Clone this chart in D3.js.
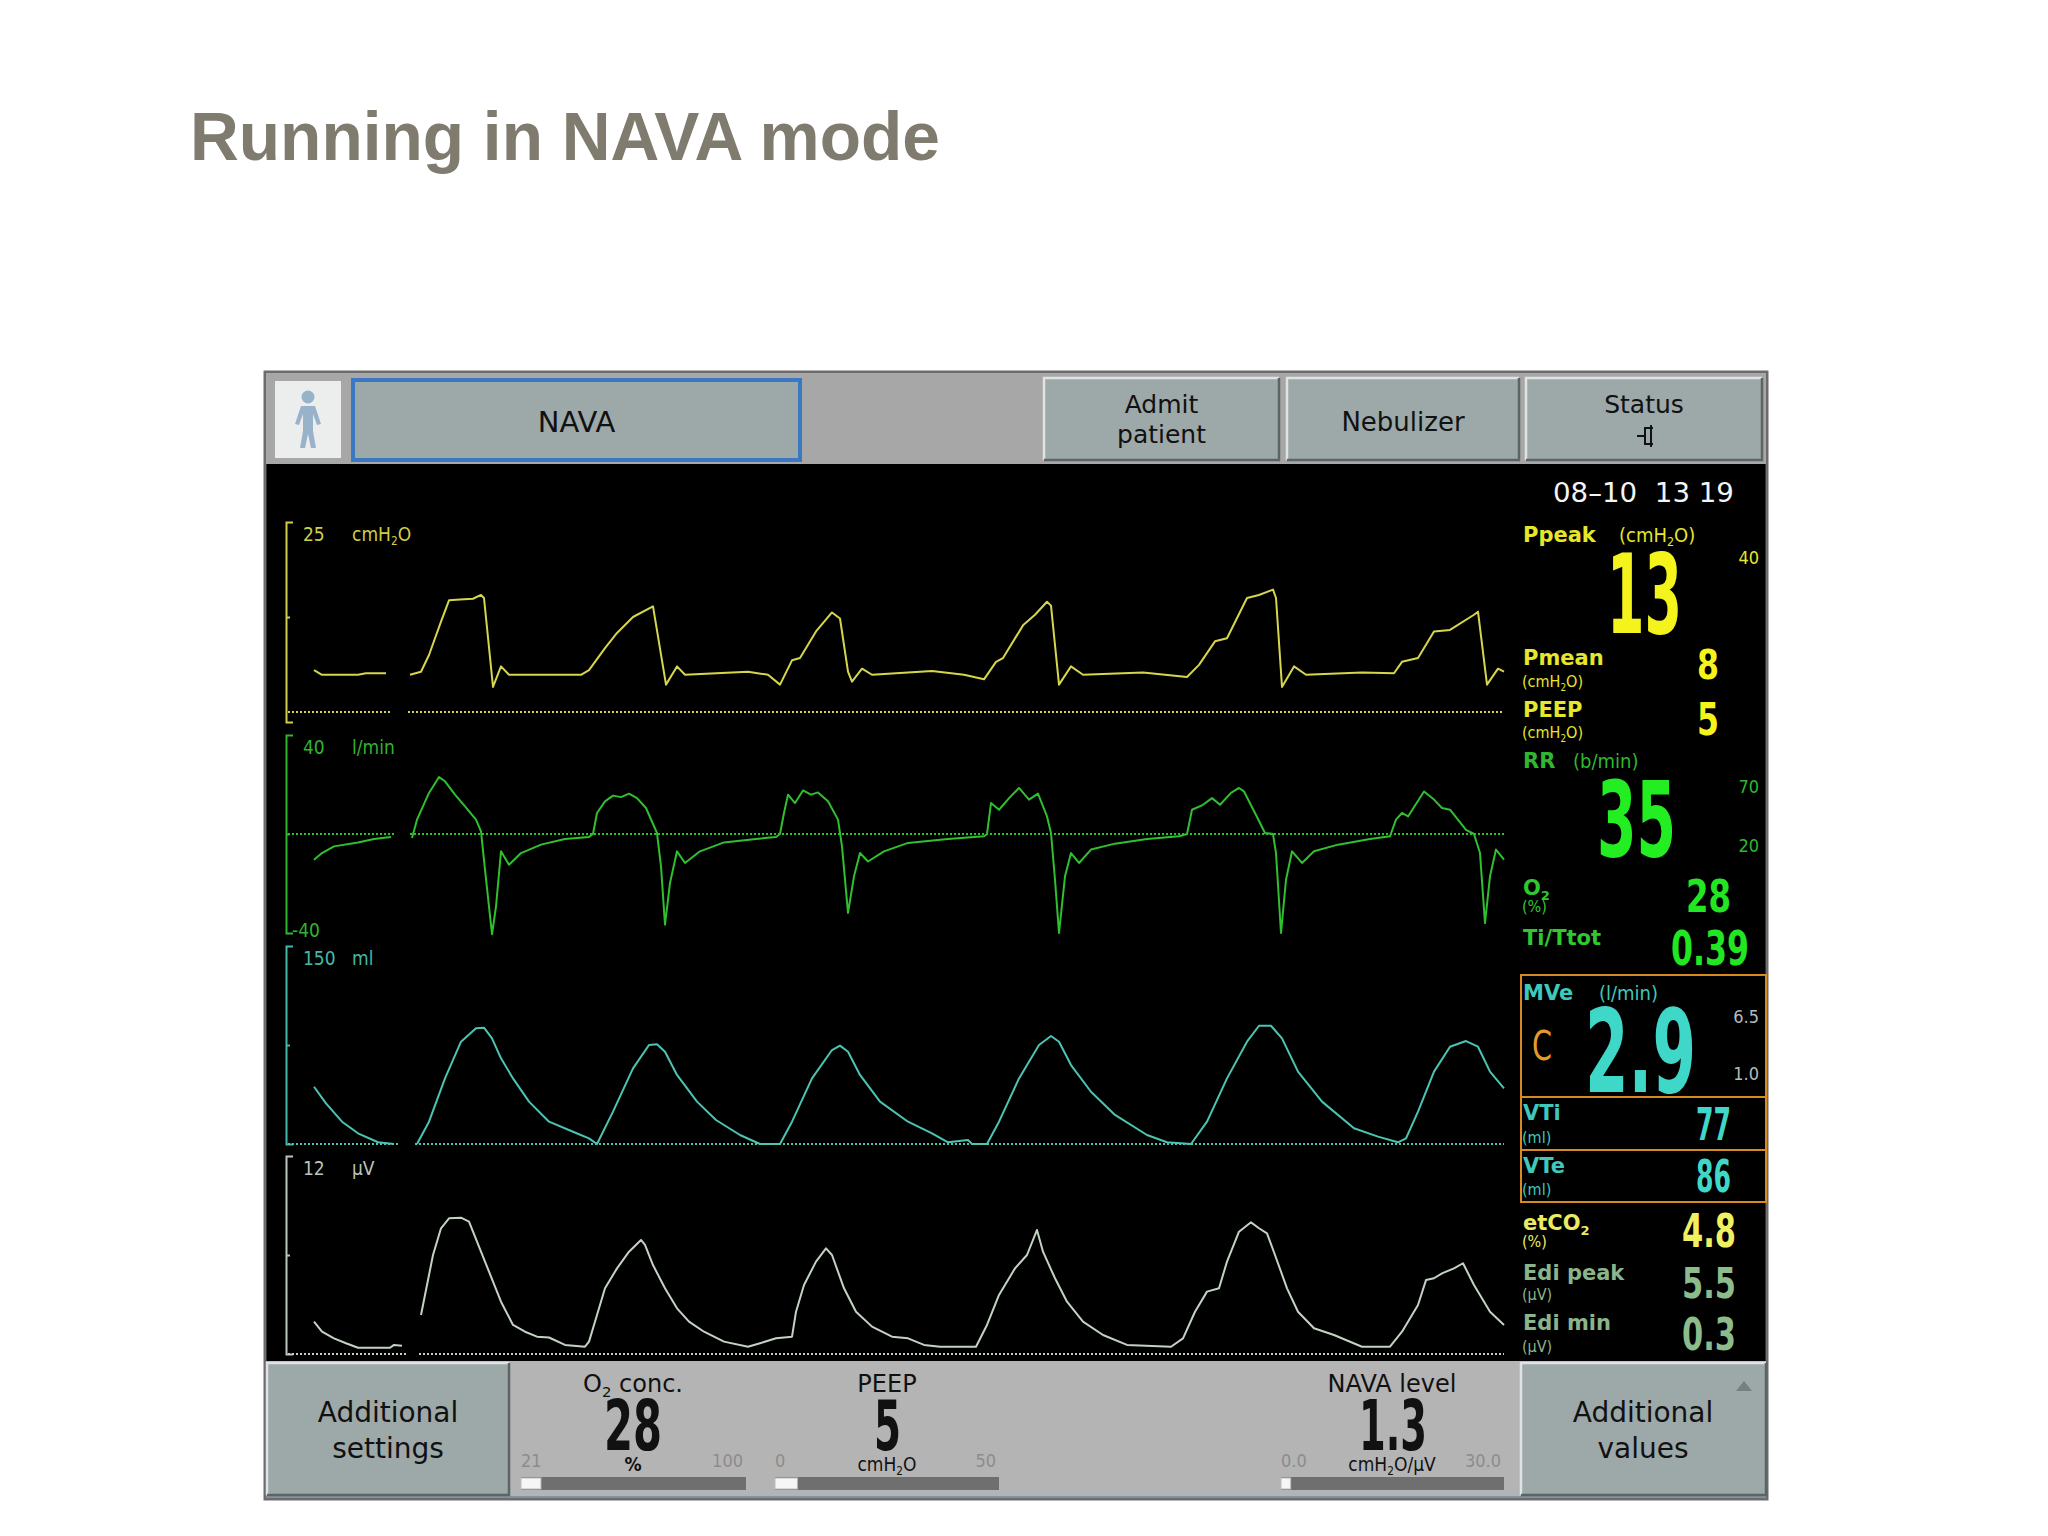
<!DOCTYPE html>
<html>
<head>
<meta charset="utf-8">
<script src="https://cdn.jsdelivr.net/npm/d3@7"></script>
<style>
  body { margin: 0; background: #fff; }
</style>
</head>
<body>
<script>
'use strict';

// ---- data ----
// waveforms: [seconds, value], null marks the sweep gap
let pressure = [[0.14,5.5],[0.22,4.9],[0.58,4.9],[0.66,5.1],[0.86,5.1],[0.98,null],
  [1.10,4.9],[1.21,5.3],[1.29,7.5],[1.41,11.9],[1.49,14.7],[1.60,14.8],[1.73,14.9],[1.81,15.4],[1.84,15.0],
  [1.93,3.3],[2.01,6.0],[2.09,4.9],[2.81,4.9],[2.89,5.5],[3.05,8.4],[3.17,10.4],[3.33,12.5],[3.53,13.9],
  [3.66,3.6],[3.77,6.0],[3.85,4.9],[4.48,5.3],[4.68,4.9],[4.80,3.6],[4.92,6.8],[5.00,7.1],[5.16,10.6],
  [5.32,13.1],[5.40,12.3],[5.48,5.3],[5.52,4.0],[5.62,5.7],[5.72,4.9],[6.32,5.4],[6.64,4.9],[6.84,4.3],
  [6.96,6.6],[7.03,7.1],[7.23,11.4],[7.35,12.8],[7.47,14.5],[7.51,14.0],[7.59,3.6],[7.71,6.0],[7.83,4.9],
  [8.43,5.2],[8.87,4.6],[8.99,6.2],[9.15,9.3],[9.27,9.7],[9.47,15.0],[9.59,15.4],[9.73,16.1],[9.76,15.0],
  [9.82,3.3],[9.94,6.0],[10.06,4.9],[10.62,5.2],[10.94,5.1],[11.02,6.6],[11.18,7.1],[11.34,10.6],
  [11.50,10.8],[11.74,12.8],[11.78,13.2],[11.87,3.6],[11.98,5.7],[12.04,5.3]];

let flow = [[0.14,-10.4],[0.22,-7.7],[0.34,-5.0],[0.58,-3.4],[0.74,-2.0],[0.91,-1.2],[1.0,null],
  [1.12,-1.6],[1.17,5.8],[1.29,16.6],[1.39,23.0],[1.45,21.3],[1.55,15.9],[1.65,11.2],[1.76,5.8],[1.81,1.1],
  [1.85,-14.4],[1.92,-40.5],[1.96,-29.3],[2.01,-7.0],[2.09,-12.4],[2.21,-7.7],[2.41,-4.3],[2.65,-2.0],
  [2.89,-1.2],[2.93,0],[2.97,8.5],[3.05,13.2],[3.13,15.5],[3.21,14.9],[3.29,16.3],[3.37,14.5],[3.46,10.5],
  [3.57,0.4],[3.61,-13.1],[3.65,-36.6],[3.70,-19.8],[3.77,-7.0],[3.85,-11.7],[4.00,-7.0],[4.24,-3.4],
  [4.56,-2.0],[4.76,-1.2],[4.80,0],[4.84,8.5],[4.88,15.9],[4.95,12.5],[5.03,17.6],[5.11,15.9],[5.18,16.8],
  [5.28,13.2],[5.38,5.8],[5.42,-5.0],[5.48,-31.9],[5.54,-17.1],[5.60,-7.7],[5.68,-11.1],[5.84,-7.0],
  [6.08,-3.6],[6.48,-2.0],[6.84,-0.9],[6.87,0],[6.91,12.5],[6.99,9.8],[7.10,14.9],[7.19,18.6],[7.29,13.9],
  [7.38,16.3],[7.47,7.1],[7.51,0.4],[7.55,-18.5],[7.59,-40.0],[7.65,-17.1],[7.71,-7.7],[7.79,-11.7],
  [7.91,-6.3],[8.15,-3.9],[8.47,-2.0],[8.79,-0.9],[8.87,0],[8.92,9.8],[9.03,11.8],[9.12,14.5],[9.20,11.8],
  [9.31,16.6],[9.39,18.6],[9.44,17.2],[9.55,8.5],[9.65,0.4],[9.73,0],[9.76,-7.7],[9.81,-40.0],[9.86,-18.5],
  [9.92,-7.0],[10.02,-11.7],[10.14,-7.0],[10.38,-4.3],[10.70,-2.0],[10.90,-0.9],[10.96,5.8],[11.02,8.5],
  [11.08,7.1],[11.24,17.2],[11.34,13.9],[11.42,10.5],[11.50,9.8],[11.66,1.7],[11.74,0],[11.80,-7.7],
  [11.85,-36.0],[11.90,-17.1],[11.96,-6.3],[12.04,-10.4]];

let volume = [[0.14,43.4],[0.26,30.8],[0.42,16.9],[0.58,8.1],[0.78,1.3],[0.94,0],[1.05,null],
  [1.17,0],[1.29,16.9],[1.45,49.7],[1.61,77.5],[1.76,87.6],[1.84,88.1],[1.92,80],[2.01,64.9],[2.13,49.7],
  [2.29,32.1],[2.49,16.9],[2.73,9.3],[2.89,4.3],[2.97,0],[3.13,24.5],[3.33,57.3],[3.49,75],[3.57,75.5],
  [3.65,69.9],[3.77,52.3],[3.97,32.1],[4.16,18.2],[4.40,6.8],[4.60,0],[4.80,0],[4.92,16.9],[5.12,49.7],
  [5.32,71.2],[5.40,74.5],[5.48,69.9],[5.60,52.3],[5.80,32.1],[6.08,16.9],[6.32,8.1],[6.48,1.3],[6.68,3.0],
  [6.72,0],[6.87,0],[6.99,16.9],[7.19,49.7],[7.39,75],[7.51,81.8],[7.59,77.5],[7.71,59.8],[7.91,39.6],
  [8.15,22],[8.47,6.8],[8.67,1.3],[8.91,0],[9.07,16.9],[9.27,49.7],[9.47,77.5],[9.59,89.6],[9.71,89.6],
  [9.82,80],[9.98,54.8],[10.22,32.1],[10.54,11.9],[10.78,5.6],[10.98,1.3],[11.06,4.3],[11.18,24.5],
  [11.34,54.8],[11.50,73.7],[11.66,78],[11.78,73.7],[11.90,54.8],[12.04,42.2]];

let edi = [[0.14,1.96],[0.22,1.35],[0.34,0.95],[0.46,0.65],[0.58,0.38],[0.90,0.38],[0.94,0.55],[1.02,0.5],[1.1,null],
  [1.21,2.36],[1.25,3.58],[1.33,6.0],[1.41,7.62],[1.49,8.22],[1.61,8.26],[1.69,8.02],[1.77,6.81],[1.89,4.99],
  [2.01,3.17],[2.13,1.76],[2.25,1.35],[2.37,1.05],[2.49,1.0],[2.65,0.55],[2.85,0.44],[2.89,0.75],[2.97,2.36],
  [3.05,3.98],[3.17,5.19],[3.29,6.2],[3.41,6.91],[3.45,6.61],[3.53,5.39],[3.65,3.98],[3.77,2.77],[3.89,1.96],
  [4.04,1.35],[4.24,0.75],[4.48,0.44],[4.60,0.65],[4.76,0.95],[4.92,1.05],[4.96,2.56],[5.04,4.18],[5.16,5.6],
  [5.26,6.4],[5.32,6.0],[5.44,3.98],[5.56,2.56],[5.72,1.66],[5.92,1.05],[6.08,0.95],[6.24,0.55],[6.40,0.44],
  [6.76,0.44],[6.87,1.76],[6.99,3.58],[7.15,5.19],[7.27,6.0],[7.37,7.52],[7.43,6.2],[7.55,4.59],[7.67,3.17],
  [7.83,1.96],[8.03,1.15],[8.27,0.55],[8.71,0.44],[8.83,0.95],[8.95,2.56],[9.07,3.78],[9.19,3.98],[9.27,5.6],
  [9.39,7.41],[9.51,7.98],[9.59,7.62],[9.67,7.31],[9.75,6.0],[9.87,3.98],[9.98,2.56],[10.14,1.56],[10.34,1.15],
  [10.62,0.44],[10.90,0.44],[11.02,1.35],[11.18,2.97],[11.26,4.48],[11.34,4.59],[11.42,4.89],[11.54,5.19],
  [11.63,5.5],[11.74,4.18],[11.90,2.56],[12.04,1.76]];

let waveMax = [25, 40, 150, 12];
let waveMin = [0, -40, 0, 0];
let waveUnits = ['cmH_2O', 'l/min', 'ml', 'µV'];

// measured values column on the right
let readNames = ['Ppeak', 'Pmean', 'PEEP', 'RR', 'O_2', 'Ti/Ttot', 'MVe', 'VTi', 'VTe', 'etCO_2', 'Edi peak', 'Edi min'];
let readUnits = ['(cmH_2O)', '(cmH_2O)', '(cmH_2O)', '(b/min)', '(%)', '', '(l/min)', '(ml)', '(ml)', '(%)', '(µV)', '(µV)'];
let readValues = [13, 8, 5, 35, 28, 0.39, 2.9, 77, 86, 4.8, 5.5, 0.3];
let alarmHigh = [40, null, null, 70, null, null, 6.5, null, null, null, null, null];
let alarmLow = [null, null, null, 20, null, null, 1.0, null, null, null, null, null];

// settings along the bottom
let setNames = ['O_2 conc.', 'PEEP', 'NAVA level'];
let setValues = [28, 5, 1.3];
let setMin = ['21', '0', '0.0'];
let setMax = ['100', '50', '30.0'];
let setUnits = ['%', 'cmH_2O', 'cmH_2O/µV'];

let topButtons = [['NAVA'], ['Admit', 'patient'], ['Nebulizer'], ['Status']];
let dateText = '08–10  13 19';

// ---- drawing ----
const SANS = "'DejaVu Sans', sans-serif";
const COND = "'DejaVu Sans Condensed', 'DejaVu Sans', sans-serif";

let svg = d3.select('body').append('svg')
  .attr('width', 2048)
  .attr('height', 1536);

svg.append('rect').attr('width', 2048).attr('height', 1536).attr('fill', '#fff');

// text with "_x" subscripts; o.len squeezes it to a given width
function addText(g, x, y, str, o) {
  o = o || {};
  let size = o.size || 20;
  let t = g.append('text')
    .attr('x', x).attr('y', y)
    .attr('font-family', o.family || SANS)
    .attr('font-size', size)
    .attr('font-weight', o.weight || 'normal')
    .attr('fill', o.fill || '#111')
    .attr('text-anchor', o.anchor || 'start')
    .style('white-space', 'pre');
  let parts = str.split(/_(.)/);
  let shift = 0;
  parts.forEach((p, i) => {
    if (!p) return;
    let ts = t.append('tspan').text(p);
    if (i % 2) {
      ts.attr('font-size', size * 0.62).attr('dy', size * 0.22);
      shift = size * 0.22;
    } else if (shift) {
      ts.attr('dy', -shift);
      shift = 0;
    }
  });
  if (o.len) {
    let w = t.node().getComputedTextLength();
    t.attr('x', 0).attr('y', 0)
      .attr('transform', `translate(${x},${y}) scale(${o.len / w},1)`);
  }
  return t;
}

addText(svg, 190, 160, 'Running in NAVA mode', {
  family: "'Liberation Sans', Arial, sans-serif", size: 68, weight: 'bold', fill: '#7f7b6e', len: 750
});

// monitor frame
let mon = svg.append('g');
mon.append('rect').attr('x', 265).attr('y', 372).attr('width', 1502).attr('height', 1127)
  .attr('fill', '#000').attr('stroke', '#6c6c6c').attr('stroke-width', 3);
mon.append('rect').attr('x', 266).attr('y', 373).attr('width', 1500).attr('height', 91).attr('fill', '#a7a7a7');
mon.append('rect').attr('x', 266).attr('y', 1361).attr('width', 1500).attr('height', 137).attr('fill', '#b4b4b4');
mon.append('line').attr('x1', 266).attr('x2', 1766).attr('y1', 1497).attr('y2', 1497)
  .attr('stroke', '#7f93a6').attr('stroke-width', 2);

function button(g, x0, y0, x1, y1) {
  g.append('rect').attr('x', x0).attr('y', y0).attr('width', x1 - x0).attr('height', y1 - y0).attr('fill', '#9da8a8');
  g.append('path').attr('d', `M${x0},${y1}V${y0}H${x1}`).attr('fill', 'none').attr('stroke', '#dfe3e3').attr('stroke-width', 2.5);
  g.append('path').attr('d', `M${x0},${y1}H${x1}V${y0}`).attr('fill', 'none').attr('stroke', '#5d6464').attr('stroke-width', 2.5);
}

// top bar
mon.append('rect').attr('x', 275).attr('y', 381).attr('width', 66).attr('height', 77).attr('fill', '#eceeee');
let person = mon.append('g').attr('fill', '#98b2ca');
person.append('circle').attr('cx', 308).attr('cy', 397).attr('r', 6.5);
person.append('path')
  .attr('d', 'M301,406H315L321,424L317,425L313,414V431L316,448H311L308,434L305,448H300L303,431V414L299,425L295,424Z');

let btnBoxes = [[353, 380, 800, 460], [1044, 378, 1279, 460], [1287, 378, 1519, 460], [1526, 378, 1762, 460]];
btnBoxes.forEach((b, i) => {
  button(mon, b[0], b[1], b[2], b[3]);
  let cx = (b[0] + b[2]) / 2;
  let lines = topButtons[i];
  if (i === 0) {
    mon.append('rect').attr('x', b[0]).attr('y', b[1]).attr('width', b[2] - b[0]).attr('height', b[3] - b[1])
      .attr('fill', 'none').attr('stroke', '#3b78c4').attr('stroke-width', 4);
    addText(mon, cx, 432, lines[0], { size: 29, anchor: 'middle' });
  } else if (lines.length === 2) {
    addText(mon, cx, 413, lines[0], { size: 25, anchor: 'middle' });
    addText(mon, cx, 443, lines[1], { size: 25, anchor: 'middle' });
  } else if (lines[0] === 'Status') {
    addText(mon, cx, 413, lines[0], { size: 25, anchor: 'middle' });
    mon.append('path').attr('fill', 'none').attr('stroke', '#111').attr('stroke-width', 2)
      .attr('d', 'M1637,436H1644M1653,428H1645V444H1653M1651,425V447');
  } else {
    addText(mon, cx, 431, lines[0], { size: 26, anchor: 'middle' });
  }
});

// waveforms
let x = d3.scaleLinear().domain([0, 12]).range([300, 1500]);
let waves = [pressure, flow, volume, edi];
let waveColors = ['#d6d64c', '#2fbf2f', '#4cc4b2', '#c3d2c3'];
let labelColors = ['#cfcf48', '#2fb52f', '#46b8a8', '#b9c6b9'];
let yScales = [
  d3.scaleLinear().domain([0, 25]).range([712, 522]),
  d3.scaleLinear().domain([-40, 40]).range([933, 735]),
  d3.scaleLinear().domain([0, 150]).range([1144, 946]),
  d3.scaleLinear().domain([0, 12]).range([1354, 1156])
];
let axisBottom = [-1.3, -40, 0, 0];

waves.forEach((data, i) => {
  let y = yScales[i];
  let g = mon.append('g');
  let col = waveColors[i];

  // bracket axis
  let ay = y.copy().domain([axisBottom[i], waveMax[i]]).range([y(axisBottom[i]), y(waveMax[i])]);
  let axis = d3.axisRight(ay)
    .tickValues([(waveMax[i] + waveMin[i]) / 2])
    .tickSizeInner(4)
    .tickSizeOuter(7)
    .tickFormat('');
  let ag = g.append('g').attr('transform', 'translate(286,0)').call(axis);
  ag.selectAll('path, line').attr('stroke', labelColors[i]).attr('stroke-width', 2);

  addText(g, 303, y(waveMax[i]) + 19, String(waveMax[i]), { family: COND, size: 19, fill: labelColors[i] });
  addText(g, 352, y(waveMax[i]) + 19, waveUnits[i], { family: COND, size: 19, fill: labelColors[i] });
  if (waveMin[i] < 0) {
    addText(g, 292, y(waveMin[i]) + 4, String(waveMin[i]), { family: COND, size: 19, fill: labelColors[i] });
  }

  // dotted zero line with the sweep gap
  let gi = data.findIndex(d => d[1] === null);
  let segs = [[x.invert(288), data[gi - 1][0] + 0.04], [data[gi + 1][0] - 0.02, 12.04]];
  segs.forEach(s => {
    g.append('line')
      .attr('x1', x(s[0])).attr('x2', x(s[1]))
      .attr('y1', y(0)).attr('y2', y(0))
      .attr('stroke', col).attr('stroke-width', 2).attr('stroke-dasharray', '2 2');
  });

  let line = d3.line()
    .defined(d => d[1] !== null)
    .x(d => x(d[0]))
    .y(d => y(d[1]));
  g.append('path').datum(data)
    .attr('d', line)
    .attr('fill', 'none')
    .attr('stroke', col)
    .attr('stroke-width', 2)
    .attr('stroke-linejoin', 'round');
});

// right column of measured values
let side = mon.append('g');
addText(side, 1553, 502, dateText, { size: 27, fill: '#f4f4f4', len: 181 });

let readLayout = [
  { ly: 542, ux: 1619, uy: 542, box: [1607, 1682, 552, 633], lc: '#e6e62a', vc: '#f4f41c' },
  { ly: 665, uy: 687, box: [1697, 1719, 649, 679], lc: '#e6e62a', vc: '#f4f41c' },
  { ly: 717, uy: 738, box: [1697, 1719, 702, 735], lc: '#e6e62a', vc: '#f4f41c' },
  { ly: 768, ux: 1573, uy: 768, box: [1597, 1676, 780, 857], lc: '#2fb82f', vc: '#22ee22' },
  { ly: 895, uy: 912, box: [1686, 1731, 880, 912], lc: '#2fc82f', vc: '#22e622' },
  { ly: 945, box: [1671, 1749, 930, 965], lc: '#2fc82f', vc: '#22e622' },
  { ly: 1000, ux: 1599, uy: 1000, box: [1585, 1696, 1008, 1092], lc: '#3fc8bc', vc: '#3fd8c8' },
  { ly: 1120, uy: 1143, box: [1696, 1731, 1107, 1140], lc: '#3fc8bc', vc: '#3fd8c8' },
  { ly: 1173, uy: 1195, box: [1696, 1731, 1160, 1192], lc: '#3fc8bc', vc: '#3fd8c8' },
  { ly: 1230, uy: 1247, box: [1682, 1736, 1213, 1247], lc: '#ecec62', vc: '#f0f060' },
  { ly: 1280, uy: 1300, box: [1682, 1736, 1267, 1298], lc: '#8ab48a', vc: '#8cbc8c' },
  { ly: 1330, uy: 1352, box: [1682, 1736, 1318, 1350], lc: '#8ab48a', vc: '#8cbc8c' }
];

// orange boxes round MVe, VTi, VTe
[[975, 1097], [1097, 1150], [1150, 1202]].forEach(b => {
  side.append('rect').attr('x', 1521).attr('y', b[0]).attr('width', 245).attr('height', b[1] - b[0])
    .attr('fill', 'none').attr('stroke', '#d98a1e').attr('stroke-width', 2);
});

readNames.forEach((name, i) => {
  let L = readLayout[i];
  addText(side, 1523, L.ly, name, { size: 21, weight: 'bold', fill: L.lc });
  if (readUnits[i]) {
    if (L.ux) addText(side, L.ux, L.uy, readUnits[i], { family: COND, size: 20, fill: L.lc });
    else addText(side, 1522, L.uy, readUnits[i], { family: COND, size: 16, fill: L.lc });
  }
  let b = L.box;
  addText(side, b[0], b[3], String(readValues[i]), {
    family: COND, weight: 'bold', size: (b[3] - b[2]) / 0.729, fill: L.vc, len: b[1] - b[0]
  });
  let limCol = i === 6 ? '#b4bcbc' : L.lc;
  if (alarmHigh[i] !== null) addText(side, 1759, i === 0 ? 564 : (i === 3 ? 793 : 1023), alarmHigh[i].toFixed(i === 6 ? 1 : 0), { family: COND, size: 18, fill: limCol, anchor: 'end' });
  if (alarmLow[i] !== null) addText(side, 1759, i === 3 ? 852 : 1080, alarmLow[i].toFixed(i === 6 ? 1 : 0), { family: COND, size: 18, fill: limCol, anchor: 'end' });
});
addText(side, 1532, 1060, 'C', { family: COND, size: 40, fill: '#e49a2c', len: 20 });

// bottom bar
let bot = mon.append('g');
button(bot, 267, 1363, 509, 1495);
addText(bot, 388, 1422, 'Additional', { size: 28, anchor: 'middle' });
addText(bot, 388, 1458, 'settings', { size: 28, anchor: 'middle' });
button(bot, 1521, 1363, 1766, 1495);
addText(bot, 1643, 1422, 'Additional', { size: 28, anchor: 'middle' });
addText(bot, 1643, 1458, 'values', { size: 28, anchor: 'middle' });
bot.append('path').attr('d', 'M1736,1391L1744,1381L1752,1391Z').attr('fill', '#76807f');

let setCenters = [633, 887, 1392];
let setTracks = [[521, 746], [775, 999], [1281, 1504]];
let setValueBoxes = [[604, 662], [874, 901], [1359, 1427]];
setNames.forEach((name, i) => {
  let cx = setCenters[i];
  addText(bot, cx, 1392, name, { size: 24, anchor: 'middle' });
  let vb = setValueBoxes[i];
  addText(bot, vb[0], 1450, String(setValues[i]), {
    family: COND, weight: 'bold', size: 50 / 0.729, fill: '#111', len: vb[1] - vb[0]
  });
  addText(bot, cx, 1471, setUnits[i], { family: COND, size: 19, anchor: 'middle', weight: i === 0 ? 'bold' : 'normal' });
  let tr = setTracks[i];
  let s = d3.scaleLinear().domain([+setMin[i], +setMax[i]]).range(tr);
  addText(bot, tr[0], 1467, setMin[i], { family: COND, size: 18, fill: '#8c8c8c' });
  addText(bot, tr[1] - 3, 1467, setMax[i], { family: COND, size: 18, fill: '#8c8c8c', anchor: 'end' });
  bot.append('rect').attr('x', tr[0]).attr('y', 1477).attr('width', tr[1] - tr[0]).attr('height', 13).attr('fill', '#6f6f6f');
  bot.append('rect').attr('x', tr[0]).attr('y', 1478).attr('width', Math.max(8, s(setValues[i]) - tr[0])).attr('height', 11)
    .attr('fill', '#f6f6f6').attr('stroke', '#bdbdbd').attr('stroke-width', 1);
});
</script>
</body>
</html>
